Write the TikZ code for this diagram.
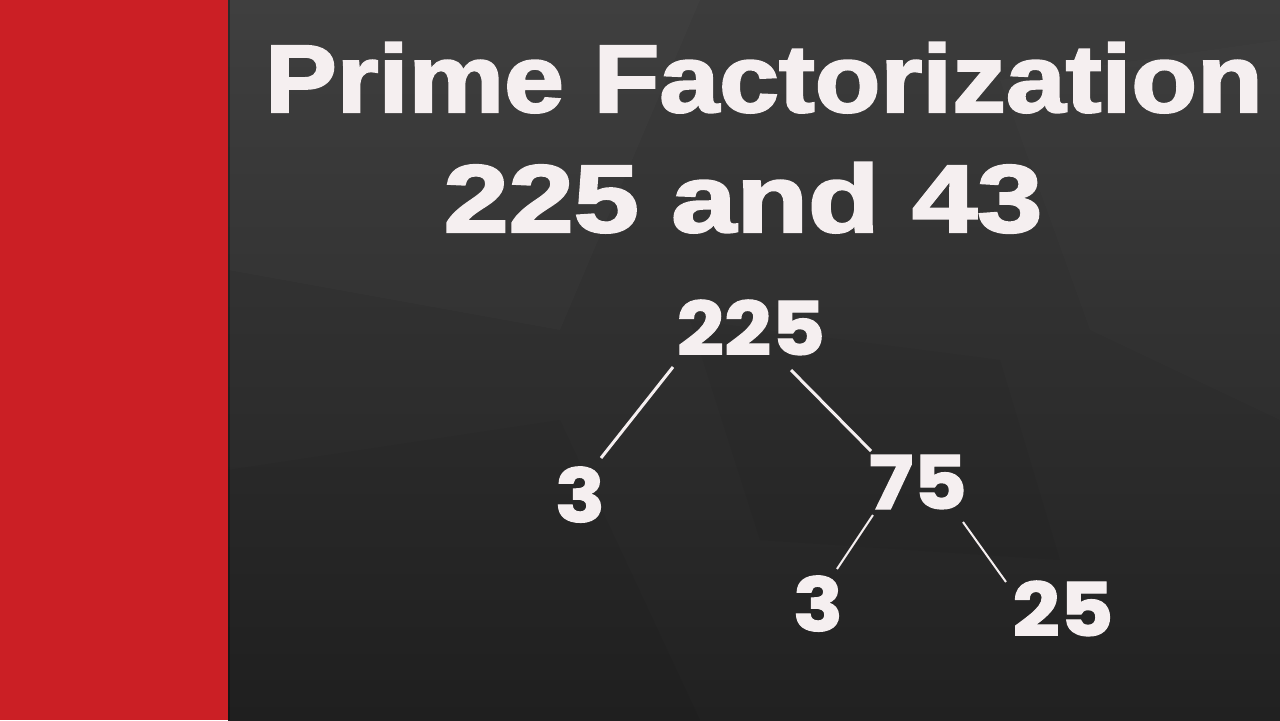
\documentclass[tikz,border=0pt]{standalone}
\usepackage{fontspec}
\usepackage{graphicx}
\setmainfont{Liberation Sans}[BoldFeatures={FakeBold=2.2}]
\newfontfamily\numfont{Poppins}[BoldFeatures={FakeBold=1.6, FakeStretch=1.12}]
\definecolor{barred}{HTML}{CB1F25}
\definecolor{chalk}{HTML}{F5EFF0}
\definecolor{slatetop}{HTML}{3C3C3C}
\definecolor{slatebot}{HTML}{212121}
\begin{document}
\begin{tikzpicture}[x=0.5pt, y=-0.5pt,
  title/.style={font=\fontsize{48}{50}\selectfont\bfseries, text=chalk, inner sep=0pt, anchor=base},
  num/.style={font=\numfont\fontsize{37}{40}\selectfont\bfseries, text=chalk, inner sep=0pt, anchor=base},
  branch/.style={chalk, line width=1.5pt},
  twig/.style={chalk, line width=1pt}]
\useasboundingbox (0,0) rectangle (1280,720);
% background: dark slate with a few faint facets, red bar on the left
\shade[top color=slatetop, bottom color=slatebot] (228,0) rectangle (1280,720);
\fill[white, opacity=0.015] (228,0) -- (700,0) -- (560,330) -- (228,270) -- cycle;
\fill[black, opacity=0.04] (690,320) -- (1000,360) -- (1060,560) -- (760,540) -- cycle;
\fill[black, opacity=0.04] (228,470) -- (560,420) -- (700,720) -- (228,720) -- cycle;
\fill[white, opacity=0.012] (1000,80) -- (1280,40) -- (1280,420) -- (1090,330) -- cycle;
\fill[barred] (0,0) rectangle (228,720);
\draw[black, opacity=0.3, line width=1pt] (228.5,0) -- (228.5,720);

% title
\node[title] (head) at (764,112) {\scalebox{1.12}[1]{Prime Factorization}};
\node[title] (sub) at (743,232) {\scalebox{1.22}[1]{225 and 43}};

% factor tree
\node[num] (n225) at (751,355) {225};
\node[num] (n3a) at (580,522) {3};
\node[num] (n75) at (918,509) {75};
\node[num] (n3b) at (818,631) {3};
\node[num] (n25) at (1063,636) {25};

\draw[branch] ([shift={(-78,12)}]n225.base) -- ([shift={(21,-64)}]n3a.base);
\draw[branch] ([shift={(40,15)}]n225.base) -- ([shift={(-47,-58)}]n75.base);
\draw[twig] ([shift={(-45,6)}]n75.base) -- ([shift={(19,-62)}]n3b.base);
\draw[twig] ([shift={(45,13)}]n75.base) -- ([shift={(-57,-54)}]n25.base);
\end{tikzpicture}
\end{document}
